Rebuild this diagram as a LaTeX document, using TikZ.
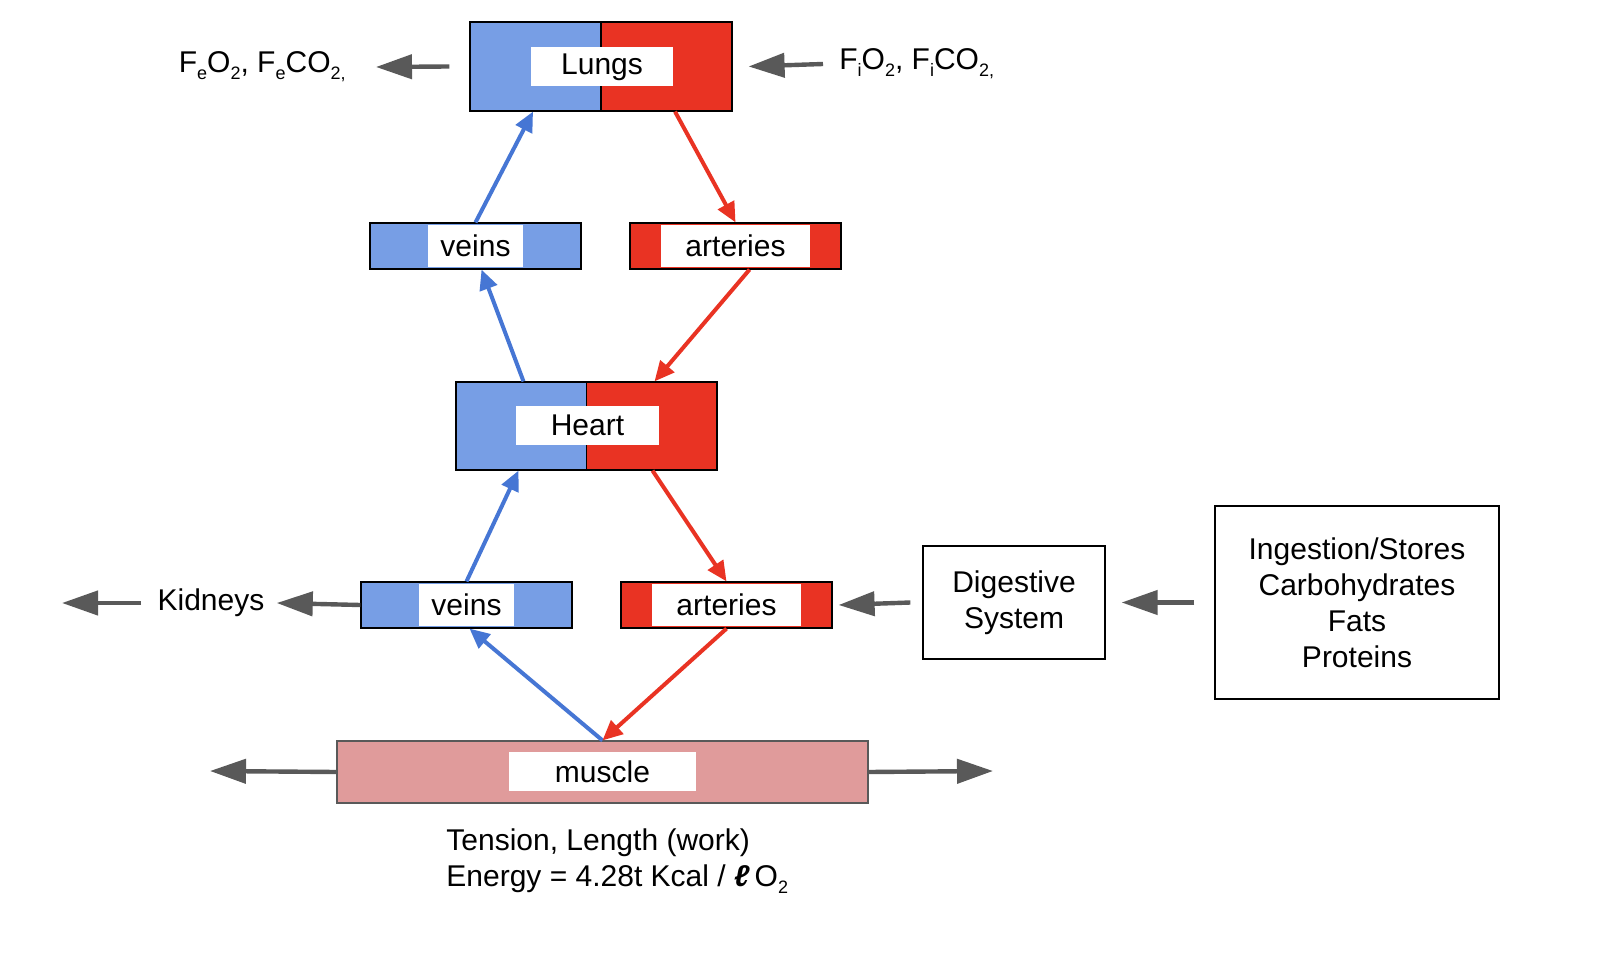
\documentclass[tikz,border=0pt]{standalone}
\usepackage{fontspec}
\setmainfont{Liberation Sans}
\usetikzlibrary{arrows.meta}
\definecolor{lb}{HTML}{779EE5}
\definecolor{ab}{HTML}{4676D4}
\definecolor{rd}{HTML}{E93323}
\definecolor{pk}{HTML}{E09B9B}
\definecolor{gy}{HTML}{595959}
\newcommand{\lsub}[1]{\raisebox{-0.45ex}{\fontsize{9}{10}\selectfont #1}}
\begin{document}
\begin{tikzpicture}[x=0.5pt,y=-0.5pt,
  every node/.style={font=\fontsize{15}{18}\selectfont, inner sep=0pt},
  split/.style={draw=black, line width=0.6pt, path picture={
     \fill[lb] (path picture bounding box.north west) rectangle (path picture bounding box.south);
     \fill[rd] (path picture bounding box.north) rectangle (path picture bounding box.south east);
     \draw[line width=0.6pt] (path picture bounding box.north) -- (path picture bounding box.south);}},
  vbox/.style={draw=black, line width=0.6pt, fill=lb, minimum width=105.5pt, minimum height=23pt},
  abox/.style={draw=black, line width=0.6pt, fill=rd, minimum width=105.5pt, minimum height=23pt},
  lbl/.style={fill=white, minimum height=19.5pt},
  plain/.style={draw=black, line width=0.6pt, align=center},
  barr/.style={draw=ab, line width=2pt, -{Triangle[length=10pt,width=9pt]}},
  rarr/.style={draw=rd, line width=2pt, -{Triangle[length=10pt,width=9pt]}},
  garr/.style={draw=gy, line width=2.2pt, -{Triangle[length=18pt,width=12pt]}}]
% boxes
\node[split, minimum width=131pt, minimum height=44.5pt] (lungs) at (601,66.5) {};
\node[lbl, minimum width=71pt] (lungsL) at (602,67) {Lungs};
\node[vbox] (veinsT) at (475.5,246) {};
\node[lbl, minimum width=47.5pt, minimum height=21pt] (veinsTL) at (475.5,246) {veins};
\node[abox] (artT) at (735.5,246) {};
\node[lbl, minimum width=74.5pt, minimum height=21pt] (artTL) at (735.5,246) {arteries};
\node[split, minimum width=130.5pt, minimum height=44pt] (heart) at (586.5,426) {};
\node[lbl, minimum width=71.5pt] (heartL) at (587.5,425.5) {Heart};
\node[vbox] (veinsB) at (466.5,605) {};
\node[lbl, minimum width=47.5pt, minimum height=21pt] (veinsBL) at (466.5,605) {veins};
\node[abox] (artB) at (726.5,605) {};
\node[lbl, minimum width=74.5pt, minimum height=21pt] (artBL) at (726.5,605) {arteries};
\node[draw=gy, line width=0.6pt, fill=pk, minimum width=265.5pt, minimum height=31pt] (muscle) at (602.5,772) {};
\node[lbl, minimum width=93.5pt] (muscleL) at (602.5,771.5) {muscle};
\node[plain, minimum width=91pt, minimum height=56.5pt] (dig) at (1014,602.5) {Digestive\\System};
\node[plain, minimum width=142pt, minimum height=96.5pt] (ing) at (1357,602.5) {Ingestion/Stores\\Carbohydrates\\Fats\\Proteins};
% texts
\node[anchor=east] (fe) at (346,67) {F\lsub{e}O\lsub{2}, F\lsub{e}CO\lsub{2,}};
\node[anchor=west] (fi) at (839,64) {F\lsub{i}O\lsub{2}, F\lsub{i}CO\lsub{2,}};
\node (kid) at (211,603) {Kidneys};
\coordinate (kidL) at (62,603);
\node[anchor=north west, align=left] (tens) at (446,828) {Tension, Length (work)\\Energy = 4.28t Kcal / \textit{\textbf{ℓ}}\,O\lsub{2}};
\coordinate (mL) at (210,771);
\coordinate (mR) at (993,771);
% colored arrows
\draw[barr] (veinsT.north) -- ([xshift=-34pt]lungs.south);
\draw[rarr] ([xshift=37pt]lungs.south) -- (artT.north);
\draw[barr] ([xshift=-31.5pt]heart.north) -- ([xshift=3pt]veinsT.south);
\draw[rarr] ([xshift=7pt]artT.south) -- ([xshift=34pt]heart.north);
\draw[barr] (veinsB.north) -- ([xshift=-34pt]heart.south);
\draw[rarr] ([xshift=33pt]heart.south) -- (artB.north);
\draw[barr] (muscle.north) -- ([xshift=1.5pt]veinsB.south);
\draw[rarr] (artB.south) -- (muscle.north);
% gray arrows
\draw[garr] ([xshift=-10pt]lungs.west) -- ([xshift=15pt]fe.east);
\draw[garr] ([xshift=-8pt]fi.west) -- ([xshift=8pt]lungs.east);
\draw[garr] (veinsB.west) -- ([xshift=6pt]kid.east);
\draw[garr] ([xshift=-8pt]kid.west) -- (kidL);
\draw[garr] ([xshift=-6pt]dig.west) -- ([xshift=3pt]artB.east);
\draw[garr] ([xshift=-10pt]ing.west) -- ([xshift=8pt]dig.east);
\draw[garr] (muscle.west) -- (mL);
\draw[garr] (muscle.east) -- (mR);
\pgfresetboundingbox
\useasboundingbox (0,0) rectangle (1598,956);
\end{tikzpicture}
\end{document}
